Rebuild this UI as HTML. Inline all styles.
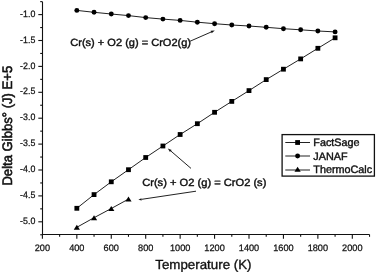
<!DOCTYPE html>
<html><head><meta charset="utf-8"><style>
html,body{margin:0;padding:0;background:#fff;overflow:hidden;}
svg{display:block;}
text{font-family:"Liberation Sans",Arial,sans-serif;fill:#111;text-rendering:geometricPrecision;}
.tl{font-size:9.3px;stroke:#111;stroke-width:0.25px;}
.at{font-size:13.2px;stroke:#111;stroke-width:0.35px;}
.yt{font-size:13.1px;stroke:#111;stroke-width:0.55px;}
.an{font-size:10.5px;stroke:#111;stroke-width:0.42px;}
.lg{font-size:10.8px;stroke:#111;stroke-width:0.4px;}
</style></head><body>
<svg width="377" height="274" viewBox="0 0 377 274">
<rect width="377" height="274" fill="#fff"/>
<path d="M42.5 1.65 V234.5 H369.52" fill="none" stroke="#111" stroke-width="1.1"/>
<line x1="40.20" y1="1.65" x2="42.5" y2="1.65" stroke="#111" stroke-width="1.1"/>
<line x1="38.30" y1="14.60" x2="42.5" y2="14.60" stroke="#111" stroke-width="1.1"/>
<line x1="40.20" y1="27.55" x2="42.5" y2="27.55" stroke="#111" stroke-width="1.1"/>
<line x1="38.30" y1="40.50" x2="42.5" y2="40.50" stroke="#111" stroke-width="1.1"/>
<line x1="40.20" y1="53.45" x2="42.5" y2="53.45" stroke="#111" stroke-width="1.1"/>
<line x1="38.30" y1="66.40" x2="42.5" y2="66.40" stroke="#111" stroke-width="1.1"/>
<line x1="40.20" y1="79.35" x2="42.5" y2="79.35" stroke="#111" stroke-width="1.1"/>
<line x1="38.30" y1="92.30" x2="42.5" y2="92.30" stroke="#111" stroke-width="1.1"/>
<line x1="40.20" y1="105.25" x2="42.5" y2="105.25" stroke="#111" stroke-width="1.1"/>
<line x1="38.30" y1="118.20" x2="42.5" y2="118.20" stroke="#111" stroke-width="1.1"/>
<line x1="40.20" y1="131.15" x2="42.5" y2="131.15" stroke="#111" stroke-width="1.1"/>
<line x1="38.30" y1="144.10" x2="42.5" y2="144.10" stroke="#111" stroke-width="1.1"/>
<line x1="40.20" y1="157.05" x2="42.5" y2="157.05" stroke="#111" stroke-width="1.1"/>
<line x1="38.30" y1="170.00" x2="42.5" y2="170.00" stroke="#111" stroke-width="1.1"/>
<line x1="40.20" y1="182.95" x2="42.5" y2="182.95" stroke="#111" stroke-width="1.1"/>
<line x1="38.30" y1="195.90" x2="42.5" y2="195.90" stroke="#111" stroke-width="1.1"/>
<line x1="40.20" y1="208.85" x2="42.5" y2="208.85" stroke="#111" stroke-width="1.1"/>
<line x1="38.30" y1="221.80" x2="42.5" y2="221.80" stroke="#111" stroke-width="1.1"/>
<line x1="40.20" y1="234.75" x2="42.5" y2="234.75" stroke="#111" stroke-width="1.1"/>
<text x="35.3" y="16.70" class="tl" text-anchor="end" textLength="15.2" lengthAdjust="spacingAndGlyphs">-1.0</text>
<text x="35.3" y="42.60" class="tl" text-anchor="end" textLength="15.2" lengthAdjust="spacingAndGlyphs">-1.5</text>
<text x="35.3" y="68.50" class="tl" text-anchor="end" textLength="15.2" lengthAdjust="spacingAndGlyphs">-2.0</text>
<text x="35.3" y="94.40" class="tl" text-anchor="end" textLength="15.2" lengthAdjust="spacingAndGlyphs">-2.5</text>
<text x="35.3" y="120.30" class="tl" text-anchor="end" textLength="15.2" lengthAdjust="spacingAndGlyphs">-3.0</text>
<text x="35.3" y="146.20" class="tl" text-anchor="end" textLength="15.2" lengthAdjust="spacingAndGlyphs">-3.5</text>
<text x="35.3" y="172.10" class="tl" text-anchor="end" textLength="15.2" lengthAdjust="spacingAndGlyphs">-4.0</text>
<text x="35.3" y="198.00" class="tl" text-anchor="end" textLength="15.2" lengthAdjust="spacingAndGlyphs">-4.5</text>
<text x="35.3" y="223.90" class="tl" text-anchor="end" textLength="15.2" lengthAdjust="spacingAndGlyphs">-5.0</text>
<line x1="42.40" y1="234.5" x2="42.40" y2="238.70" stroke="#111" stroke-width="1.1"/>
<line x1="59.62" y1="234.5" x2="59.62" y2="236.80" stroke="#111" stroke-width="1.1"/>
<line x1="76.83" y1="234.5" x2="76.83" y2="238.70" stroke="#111" stroke-width="1.1"/>
<line x1="94.05" y1="234.5" x2="94.05" y2="236.80" stroke="#111" stroke-width="1.1"/>
<line x1="111.27" y1="234.5" x2="111.27" y2="238.70" stroke="#111" stroke-width="1.1"/>
<line x1="128.48" y1="234.5" x2="128.48" y2="236.80" stroke="#111" stroke-width="1.1"/>
<line x1="145.70" y1="234.5" x2="145.70" y2="238.70" stroke="#111" stroke-width="1.1"/>
<line x1="162.92" y1="234.5" x2="162.92" y2="236.80" stroke="#111" stroke-width="1.1"/>
<line x1="180.14" y1="234.5" x2="180.14" y2="238.70" stroke="#111" stroke-width="1.1"/>
<line x1="197.35" y1="234.5" x2="197.35" y2="236.80" stroke="#111" stroke-width="1.1"/>
<line x1="214.57" y1="234.5" x2="214.57" y2="238.70" stroke="#111" stroke-width="1.1"/>
<line x1="231.79" y1="234.5" x2="231.79" y2="236.80" stroke="#111" stroke-width="1.1"/>
<line x1="249.00" y1="234.5" x2="249.00" y2="238.70" stroke="#111" stroke-width="1.1"/>
<line x1="266.22" y1="234.5" x2="266.22" y2="236.80" stroke="#111" stroke-width="1.1"/>
<line x1="283.44" y1="234.5" x2="283.44" y2="238.70" stroke="#111" stroke-width="1.1"/>
<line x1="300.65" y1="234.5" x2="300.65" y2="236.80" stroke="#111" stroke-width="1.1"/>
<line x1="317.87" y1="234.5" x2="317.87" y2="238.70" stroke="#111" stroke-width="1.1"/>
<line x1="335.09" y1="234.5" x2="335.09" y2="236.80" stroke="#111" stroke-width="1.1"/>
<line x1="352.31" y1="234.5" x2="352.31" y2="238.70" stroke="#111" stroke-width="1.1"/>
<line x1="369.52" y1="234.5" x2="369.52" y2="236.80" stroke="#111" stroke-width="1.1"/>
<text x="34.75" y="250.9" class="tl" textLength="15.3" lengthAdjust="spacingAndGlyphs">200</text>
<text x="69.18" y="250.9" class="tl" textLength="15.3" lengthAdjust="spacingAndGlyphs">400</text>
<text x="103.62" y="250.9" class="tl" textLength="15.3" lengthAdjust="spacingAndGlyphs">600</text>
<text x="138.05" y="250.9" class="tl" textLength="15.3" lengthAdjust="spacingAndGlyphs">800</text>
<text x="169.94" y="250.9" class="tl" textLength="20.4" lengthAdjust="spacingAndGlyphs">1000</text>
<text x="204.37" y="250.9" class="tl" textLength="20.4" lengthAdjust="spacingAndGlyphs">1200</text>
<text x="238.80" y="250.9" class="tl" textLength="20.4" lengthAdjust="spacingAndGlyphs">1400</text>
<text x="273.24" y="250.9" class="tl" textLength="20.4" lengthAdjust="spacingAndGlyphs">1600</text>
<text x="307.67" y="250.9" class="tl" textLength="20.4" lengthAdjust="spacingAndGlyphs">1800</text>
<text x="342.11" y="250.9" class="tl" textLength="20.4" lengthAdjust="spacingAndGlyphs">2000</text>
<text x="155.3" y="268.7" class="at" textLength="96.2" lengthAdjust="spacingAndGlyphs">Temperature (K)</text>
<text transform="translate(11.8 185.6) rotate(-90) scale(1 1.05)" class="yt">Delta Gibbs&#176; (J) E+5</text>
<polyline points="76.83,10.40 94.05,12.30 111.27,14.00 128.48,15.60 145.70,17.60 162.92,19.10 180.14,20.40 197.35,22.20 214.57,23.70 231.79,25.00 249.00,26.00 266.22,27.30 283.44,28.70 300.65,29.80 317.87,31.00 335.09,31.90" fill="none" stroke="#222" stroke-width="1"/>
<polyline points="76.83,208.30 94.05,194.60 111.27,181.80 128.48,169.70 145.70,157.50 162.92,146.00 180.14,134.50 197.35,123.70 214.57,112.30 231.79,101.40 249.00,90.60 266.22,79.60 283.44,69.20 300.65,58.90 317.87,48.30 335.09,37.80" fill="none" stroke="#222" stroke-width="1"/>
<polyline points="76.83,227.30 94.05,217.70 111.27,208.50 128.48,199.10" fill="none" stroke="#222" stroke-width="1"/>
<circle cx="76.83" cy="10.40" r="2.45" fill="#000"/>
<circle cx="94.05" cy="12.30" r="2.45" fill="#000"/>
<circle cx="111.27" cy="14.00" r="2.45" fill="#000"/>
<circle cx="128.48" cy="15.60" r="2.45" fill="#000"/>
<circle cx="145.70" cy="17.60" r="2.45" fill="#000"/>
<circle cx="162.92" cy="19.10" r="2.45" fill="#000"/>
<circle cx="180.14" cy="20.40" r="2.45" fill="#000"/>
<circle cx="197.35" cy="22.20" r="2.45" fill="#000"/>
<circle cx="214.57" cy="23.70" r="2.45" fill="#000"/>
<circle cx="231.79" cy="25.00" r="2.45" fill="#000"/>
<circle cx="249.00" cy="26.00" r="2.45" fill="#000"/>
<circle cx="266.22" cy="27.30" r="2.45" fill="#000"/>
<circle cx="283.44" cy="28.70" r="2.45" fill="#000"/>
<circle cx="300.65" cy="29.80" r="2.45" fill="#000"/>
<circle cx="317.87" cy="31.00" r="2.45" fill="#000"/>
<circle cx="335.09" cy="31.90" r="2.45" fill="#000"/>
<rect x="74.43" y="205.90" width="4.8" height="4.8" fill="#000"/>
<rect x="91.65" y="192.20" width="4.8" height="4.8" fill="#000"/>
<rect x="108.87" y="179.40" width="4.8" height="4.8" fill="#000"/>
<rect x="126.08" y="167.30" width="4.8" height="4.8" fill="#000"/>
<rect x="143.30" y="155.10" width="4.8" height="4.8" fill="#000"/>
<rect x="160.52" y="143.60" width="4.8" height="4.8" fill="#000"/>
<rect x="177.74" y="132.10" width="4.8" height="4.8" fill="#000"/>
<rect x="194.95" y="121.30" width="4.8" height="4.8" fill="#000"/>
<rect x="212.17" y="109.90" width="4.8" height="4.8" fill="#000"/>
<rect x="229.39" y="99.00" width="4.8" height="4.8" fill="#000"/>
<rect x="246.60" y="88.20" width="4.8" height="4.8" fill="#000"/>
<rect x="263.82" y="77.20" width="4.8" height="4.8" fill="#000"/>
<rect x="281.04" y="66.80" width="4.8" height="4.8" fill="#000"/>
<rect x="298.25" y="56.50" width="4.8" height="4.8" fill="#000"/>
<rect x="315.47" y="45.90" width="4.8" height="4.8" fill="#000"/>
<rect x="332.69" y="35.40" width="4.8" height="4.8" fill="#000"/>
<path d="M76.83 224.80 L79.93 229.80 L73.73 229.80Z" fill="#000"/>
<path d="M94.05 215.20 L97.15 220.20 L90.95 220.20Z" fill="#000"/>
<path d="M111.27 206.00 L114.37 211.00 L108.17 211.00Z" fill="#000"/>
<path d="M128.48 196.60 L131.58 201.60 L125.38 201.60Z" fill="#000"/>
<text x="70.3" y="46.0" class="an" textLength="120.7" lengthAdjust="spacingAndGlyphs">Cr(s) + O2 (g) = CrO2(g)</text>
<text x="142.2" y="185.5" class="an" textLength="124.2" lengthAdjust="spacingAndGlyphs">Cr(s) + O2 (g) = CrO2 (s)</text>
<line x1="189.00" y1="41.70" x2="211.14" y2="32.00" stroke="#222" stroke-width="1"/><path d="M214.80 30.40 L211.66 33.20 L210.61 30.81Z" fill="#111"/>
<line x1="191.00" y1="168.40" x2="170.83" y2="151.01" stroke="#222" stroke-width="1"/><path d="M167.80 148.40 L171.68 150.03 L169.98 152.00Z" fill="#111"/>
<line x1="196.00" y1="191.20" x2="141.56" y2="199.33" stroke="#222" stroke-width="1"/><path d="M138.40 199.80 L141.40 198.24 L141.73 200.42Z" fill="#111"/>
<rect x="282.1" y="134.6" width="92.3" height="41.5" fill="#fff" stroke="#111" stroke-width="1.3"/>
<line x1="285.3" y1="142.5" x2="310" y2="142.5" stroke="#222" stroke-width="1"/>
<rect x="295.20" y="140.10" width="4.8" height="4.8" fill="#000"/>
<text x="313.3" y="146.1" class="lg">FactSage</text>
<line x1="285.3" y1="156.0" x2="310" y2="156.0" stroke="#222" stroke-width="1"/>
<circle cx="297.60" cy="156.00" r="2.45" fill="#000"/>
<text x="313.3" y="159.5" class="lg">JANAF</text>
<line x1="285.3" y1="170.0" x2="310" y2="170.0" stroke="#222" stroke-width="1"/>
<path d="M297.60 166.80 L300.70 171.80 L294.50 171.80Z" fill="#000"/>
<text x="313.3" y="172.7" class="lg">ThermoCalc</text>
</svg>
</body></html>
